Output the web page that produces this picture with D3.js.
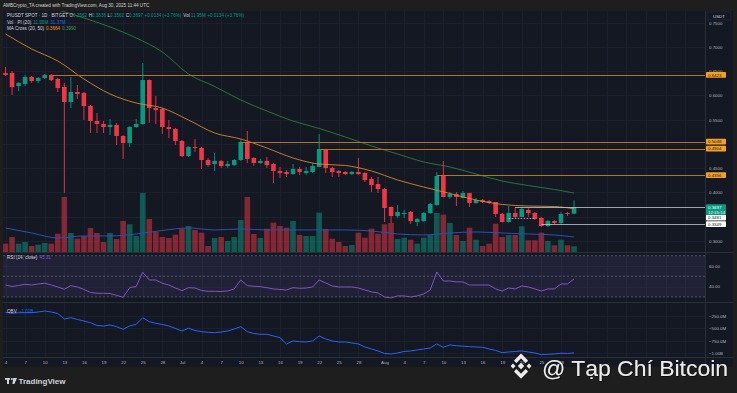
<!DOCTYPE html>
<html>
<head>
<meta charset="utf-8">
<script src="https://cdn.jsdelivr.net/npm/d3@7"></script>
<style>
  body { margin: 0; background: #1e1e1e; }
  svg { display: block; font-family: "Liberation Sans", Arial, sans-serif; }
</style>
</head>
<body>
<script>
// PIUSDT daily candles, Jun 4 - Aug 30 2025
const firstDate = "2025-06-04";
const lastDate = "2025-08-30";

const open = [0.6464,0.6464,0.6196,0.6237,0.6381,0.6299,0.6361,0.6423,0.6340,0.6175,
  0.5866,0.6072,0.6051,0.5783,0.5474,0.5412,0.5350,0.5392,0.5165,0.5020,
  0.5350,0.5412,0.6319,0.5742,0.5722,0.5350,0.5309,0.5062,0.4752,0.4938,
  0.4917,0.4670,0.4587,0.4649,0.4546,0.4567,0.4670,0.5041,0.4711,0.4608,
  0.4649,0.4587,0.4443,0.4423,0.4381,0.4484,0.4402,0.4423,0.4526,0.4897,
  0.4505,0.4443,0.4423,0.4381,0.4423,0.4402,0.4278,0.4175,0.4072,0.3701,
  0.3515,0.3557,0.3598,0.3392,0.3412,0.3577,0.3742,0.4340,0.3907,0.3969,
  0.3886,0.3990,0.3783,0.3845,0.3825,0.3804,0.3557,0.3392,0.3577,0.3495,
  0.3639,0.3577,0.3474,0.3309,0.3412,0.3371,0.3577,0.3562];
const high = [0.6588,0.6505,0.6278,0.6423,0.6402,0.6381,0.6443,0.6443,0.6361,0.6258,
  0.6381,0.6216,0.6072,0.5804,0.5639,0.5474,0.5515,0.5433,0.5185,0.5371,
  0.5515,0.6670,0.6330,0.5990,0.5742,0.5495,0.5330,0.5082,0.4958,0.5103,
  0.4938,0.4711,0.4814,0.4670,0.4649,0.4691,0.5082,0.5268,0.4732,0.4691,
  0.4732,0.4608,0.4526,0.4464,0.4587,0.4526,0.4526,0.4608,0.5206,0.4897,
  0.4526,0.4464,0.4443,0.4443,0.4711,0.4423,0.4319,0.4319,0.4093,0.3712,
  0.3742,0.3639,0.3618,0.3474,0.3598,0.3783,0.4423,0.4649,0.4010,0.4010,
  0.4031,0.3990,0.3886,0.3866,0.3845,0.3804,0.3577,0.3721,0.3701,0.3701,
  0.3680,0.3598,0.3495,0.3433,0.3433,0.3598,0.3598,0.3836];
const low = [0.6402,0.6010,0.6093,0.6196,0.6258,0.6258,0.6340,0.6299,0.6072,0.3990,
  0.5742,0.5928,0.5495,0.5227,0.5227,0.5227,0.5185,0.4979,0.4691,0.4938,
  0.5330,0.5392,0.5433,0.5412,0.5206,0.5124,0.4979,0.4732,0.4732,0.4835,
  0.4484,0.4526,0.4443,0.4505,0.4505,0.4546,0.4649,0.4608,0.4546,0.4587,
  0.4505,0.4196,0.4299,0.4319,0.4361,0.4361,0.4361,0.4402,0.4526,0.4402,
  0.4319,0.4319,0.4361,0.4361,0.4361,0.4217,0.4010,0.3990,0.3392,0.3371,
  0.3474,0.3474,0.3350,0.3309,0.3392,0.3557,0.3730,0.3900,0.3866,0.3721,
  0.3876,0.3701,0.3763,0.3783,0.3763,0.3495,0.3382,0.3382,0.3474,0.3495,
  0.3495,0.3433,0.3289,0.3289,0.3350,0.3350,0.3515,0.3562];
const close = [0.6423,0.6175,0.6258,0.6381,0.6299,0.6361,0.6423,0.6319,0.6155,0.5866,
  0.6072,0.6031,0.5783,0.5474,0.5412,0.5350,0.5392,0.5165,0.5020,0.5350,
  0.5412,0.6319,0.5742,0.5701,0.5350,0.5309,0.5062,0.4752,0.4938,0.4917,
  0.4670,0.4567,0.4649,0.4546,0.4587,0.4670,0.5041,0.4691,0.4608,0.4649,
  0.4567,0.4443,0.4402,0.4381,0.4484,0.4423,0.4443,0.4546,0.4897,0.4505,
  0.4423,0.4402,0.4381,0.4423,0.4381,0.4258,0.4154,0.4072,0.3680,0.3515,
  0.3598,0.3577,0.3412,0.3453,0.3577,0.3763,0.4340,0.3907,0.3969,0.3907,
  0.3990,0.3783,0.3845,0.3804,0.3783,0.3557,0.3392,0.3577,0.3495,0.3660,
  0.3577,0.3453,0.3309,0.3412,0.3371,0.3557,0.3563,0.3697];
// volume in millions
const volume = [17.4,31.5,17.4,21,12.6,15.3,18.9,17.4,38.4,115.5,
  39.9,27.9,33.6,50.4,39.9,21,39.9,27.3,65.1,58.2,
  33.6,123.9,69.3,42,31.5,29.4,36.3,48.9,54.6,46.2,
  40.5,12.6,29.4,31.5,23.1,31.5,67.2,115.5,37.8,29.4,
  48.9,61.5,54.6,51,65.1,35.7,33.6,33.6,82.5,48.3,
  27.9,21,12.6,14.7,40.5,30,48.9,38.4,58.2,60.9,
  27.3,30,25.8,17.4,30,35.7,81.9,78.3,60.9,35.7,
  23.1,51,25.8,12.6,17.4,59.4,31.5,35.7,35.7,54,
  24.6,24.6,40.5,23.1,14.1,25.8,14.1,11.95];
const rsi = [41.5,40.1,41.1,42.2,41.5,42.5,43.2,41.5,39.6,37.4,
  40.9,39.6,37.2,34.3,33.5,33.5,33.3,31.4,29.6,38.9,
  40.1,53.9,46.4,46.4,43.2,41.5,38.6,36.0,38.9,38.6,
  36.2,35.4,35.4,35.2,35.7,37.7,46.4,40.9,40.3,39.9,
  38.9,37.7,37.2,36.7,38.9,38.3,38.6,39.6,46.4,43.5,
  40.6,39.6,39.6,39.6,38.6,36.7,34.8,33.8,29.9,28.9,
  30.9,30.9,29.9,30.9,32.8,36.7,54.2,45.4,45.4,44.5,
  44.5,41.5,41.5,41.5,41.5,37.7,35.7,38.6,37.7,40.6,
  39.6,37.7,35.7,37.7,37.7,42.5,42.5,47.4];
// OBV in millions
const obv = [-186,-202,-190,-190,-190,-176,-156,-176,-206,-316,
  -290,-326,-356,-390,-446,-456,-436,-470,-522,-456,
  -422,-290,-370,-402,-426,-456,-506,-556,-502,-546,
  -570,-582,-590,-576,-556,-516,-470,-570,-606,-622,
  -622,-656,-690,-816,-756,-770,-776,-756,-656,-716,
  -756,-776,-776,-796,-816,-876,-916,-956,-1006,-1016,
  -996,-966,-956,-936,-916,-896,-816,-882,-836,-852,
  -860,-870,-876,-882,-916,-946,-990,-976,-966,-956,
  -976,-996,-1030,-1022,-1016,-1002,-1006,-996];

// moving averages sampled every 4 days
const maDates = ["2025-06-04","2025-06-08","2025-06-12","2025-06-16","2025-06-20","2025-06-24",
  "2025-06-28","2025-07-02","2025-07-06","2025-07-10","2025-07-14","2025-07-18","2025-07-22",
  "2025-07-26","2025-07-30","2025-08-03","2025-08-07","2025-08-11","2025-08-15","2025-08-19",
  "2025-08-23","2025-08-27","2025-08-30"];
const ma20 = [0.7268,0.6959,0.6711,0.6340,0.6031,0.5845,0.5742,0.5495,0.5227,0.5103,0.4917,0.4711,
  0.4587,0.4557,0.4443,0.4258,0.4113,0.3979,0.3845,0.3753,0.3721,0.3711,0.3664];
const ma50 = [0.8010,0.7887,0.7763,0.7598,0.7412,0.7186,0.6897,0.6443,0.6186,0.5907,0.5680,0.5474,
  0.5320,0.5144,0.4959,0.4794,0.4629,0.4526,0.4381,0.4237,0.4144,0.4062,0.3990];
const volSma = [50.4,39.9,29.4,33.6,33.6,37.8,45.2,50.4,46.2,48.3,46.2,46.2,46.2,46.2,44.1,
  37.8,35.7,39.9,42,39.9,37.8,35.7,31.4];

// drawn levels
const levelPrices = [0.6423, 0.5048, 0.4904, 0.4356];
const levelStarts = ["2025-06-11","2025-07-10","2025-07-22","2025-08-09"];
const markPrices = [0.3697, 0.3481, 0.3349];
const markStarts = ["2025-08-21","2025-08-20","2025-08-25"];
const markEnds = [null, "2025-08-24", null];

const priceTicks = [0.30,0.35,0.40,0.45,0.50,0.55,0.60,0.65,0.70,0.75];
const rsiTicks = [60, 40];
const rsiBands = [70, 50, 30];
const obvTicks = [-250, -500, -750, -1000];
const obvTickLabels = ["\u2212250.0M","\u2212500.0M","\u2212750.0M","\u22121.00B"];
const timeTicks = ["2025-06-04","2025-06-07","2025-06-10","2025-06-13","2025-06-16","2025-06-19",
  "2025-06-22","2025-06-25","2025-06-28","2025-07-01","2025-07-04","2025-07-07","2025-07-10",
  "2025-07-13","2025-07-16","2025-07-19","2025-07-22","2025-07-25","2025-07-28","2025-08-01",
  "2025-08-04","2025-08-07","2025-08-10","2025-08-13","2025-08-16","2025-08-19","2025-08-22",
  "2025-08-25","2025-08-28","2025-09-01","2025-09-04","2025-09-07","2025-09-10","2025-09-13",
  "2025-09-16"];

// layout
const W = 737, H = 393;
const plotL = 3, plotR = 705, axisR = 733;
const mainTop = 11, mainBot = 252, rsiTop = 253, rsiBot = 302, obvTop = 303, obvBot = 357, timeBot = 367;

const upCol = '#089981', downCol = '#f23645';
const textCol = '#b2b5be', gridCol = '#1c202d', sepCol = '#2a2e39';
const levelCol = '#b8741c';

const parse = d3.utcParse('%Y-%m-%d');
const dates = d3.utcDay.range(parse(firstDate), d3.utcDay.offset(parse(lastDate), 1));
const candles = dates.map((d, i) => ({date: d, o: open[i], h: high[i], l: low[i], c: close[i], v: volume[i]}));

const dayMs = 864e5, pxPerDay = 6.535;
const t0 = parse(firstDate).getTime();
const x = d3.scaleUtc()
  .domain([new Date(t0 - 2.5 / pxPerDay * dayMs), new Date(t0 + (plotR - plotL - 2.5) / pxPerDay * dayMs)])
  .range([plotL, plotR]);
const y = d3.scaleLinear().domain([0.2773, 0.7742]).range([mainBot, mainTop]);
const yVol = d3.scaleLinear().domain([0, 130]).range([mainBot, mainBot - 62]);
const yRsi = d3.scaleLinear().domain([25.0, 72.6]).range([rsiBot, rsiTop]);
const yObv = d3.scaleLinear().domain([-1077, 0]).range([obvBot, 303.2]);

const svg = d3.select('body').append('svg').attr('width', W).attr('height', H);
const defs = svg.append('defs');
[['clipMain', mainTop, mainBot], ['clipRsi', rsiTop, rsiBot], ['clipObv', obvTop, obvBot]].forEach(([id, t, b]) => {
  defs.append('clipPath').attr('id', id).append('rect')
    .attr('x', plotL).attr('y', t).attr('width', plotR - plotL).attr('height', b - t);
});
const shadow = defs.append('filter').attr('id', 'shadow').attr('x', '-10%').attr('y', '-30%').attr('width', '120%').attr('height', '160%');
shadow.append('feDropShadow').attr('dx', 0.6).attr('dy', 0.8).attr('stdDeviation', 0.7)
  .attr('flood-color', '#000').attr('flood-opacity', 0.7);

// backgrounds
svg.append('rect').attr('width', W).attr('height', H).attr('fill', '#1e1e1e');
svg.append('rect').attr('x', plotL).attr('y', mainTop).attr('width', axisR - plotL)
  .attr('height', timeBot - mainTop).attr('fill', '#141823');

// grid
const grid = svg.append('g').attr('stroke', gridCol).attr('stroke-width', 1);
grid.append('g').selectAll('line').data(timeTicks).join('line')
  .attr('x1', d => Math.round(x(parse(d))) + 0.5).attr('x2', d => Math.round(x(parse(d))) + 0.5)
  .attr('y1', mainTop).attr('y2', obvBot);
grid.append('g').selectAll('line').data(priceTicks).join('line')
  .attr('x1', plotL).attr('x2', plotR)
  .attr('y1', d => Math.round(y(d)) + 0.5).attr('y2', d => Math.round(y(d)) + 0.5);
grid.append('g').selectAll('line').data(rsiTicks).join('line')
  .attr('x1', plotL).attr('x2', plotR)
  .attr('y1', d => Math.round(yRsi(d)) + 0.5).attr('y2', d => Math.round(yRsi(d)) + 0.5);
grid.append('g').selectAll('line').data(obvTicks).join('line')
  .attr('x1', plotL).attr('x2', plotR)
  .attr('y1', d => Math.round(yObv(d)) + 0.5).attr('y2', d => Math.round(yObv(d)) + 0.5);

// ---- main pane
const main = svg.append('g').attr('clip-path', 'url(#clipMain)');

// volume
main.append('g').selectAll('rect').data(candles).join('rect')
  .attr('x', d => x(d.date) - 2.8)
  .attr('width', 5.6)
  .attr('y', d => yVol(d.v))
  .attr('height', d => yVol(0) - yVol(d.v))
  .attr('fill', d => d.c >= d.o ? 'rgba(8,153,129,0.5)' : 'rgba(242,54,69,0.5)');

const maPts = maDates.map((d, i) => ({date: parse(d), ma20: ma20[i], ma50: ma50[i], vs: volSma[i]}));
main.append('path').datum(maPts)
  .attr('fill', 'none').attr('stroke', '#2b4fb8').attr('stroke-width', 1)
  .attr('d', d3.line().x(d => x(d.date)).y(d => yVol(d.vs)).curve(d3.curveMonotoneX));

// candles
const cg = main.append('g');
cg.append('g').selectAll('line').data(candles).join('line')
  .attr('x1', d => x(d.date)).attr('x2', d => x(d.date))
  .attr('y1', d => y(d.h)).attr('y2', d => y(d.l))
  .attr('stroke', d => d.c >= d.o ? upCol : downCol).attr('stroke-width', 0.9);
cg.append('g').selectAll('rect').data(candles).join('rect')
  .attr('x', d => x(d.date) - 2.3)
  .attr('width', 4.6)
  .attr('y', d => y(Math.max(d.o, d.c)))
  .attr('height', d => Math.max(1, Math.abs(y(d.o) - y(d.c))))
  .attr('fill', d => d.c >= d.o ? upCol : downCol);

// MA cross
main.append('path').datum(maPts)
  .attr('fill', 'none').attr('stroke', '#d9862c').attr('stroke-width', 0.9)
  .attr('d', d3.line().x(d => x(d.date)).y(d => y(d.ma20)).curve(d3.curveMonotoneX));
main.append('path').datum(maPts)
  .attr('fill', 'none').attr('stroke', '#2f7d3c').attr('stroke-width', 0.9)
  .attr('d', d3.line().x(d => x(d.date)).y(d => y(d.ma50)).curve(d3.curveMonotoneX));

// horizontal levels (1px bands so the colour stays solid)
main.append('g').selectAll('rect').data(levelPrices).join('rect')
  .attr('x', (d, i) => x(parse(levelStarts[i])))
  .attr('width', (d, i) => plotR - x(parse(levelStarts[i])))
  .attr('y', d => Math.round(y(d)))
  .attr('height', 1)
  .attr('fill', levelCol);
main.append('g').selectAll('line').data(markPrices).join('line')
  .attr('x1', (d, i) => x(parse(markStarts[i])))
  .attr('x2', (d, i) => markEnds[i] ? x(parse(markEnds[i])) : plotR)
  .attr('y1', d => Math.round(y(d)) + 0.5).attr('y2', d => Math.round(y(d)) + 0.5)
  .attr('stroke', '#c4c7cf').attr('stroke-width', 0.8)
  .attr('stroke-dasharray', (d, i) => markEnds[i] ? '1.5,1.5' : null);

// ---- RSI pane
const rp = svg.append('g').attr('clip-path', 'url(#clipRsi)');
rp.append('rect').attr('x', plotL).attr('width', plotR - plotL)
  .attr('y', yRsi(70)).attr('height', yRsi(30) - yRsi(70))
  .attr('fill', 'rgba(126,87,194,0.12)');
rp.append('g').selectAll('line').data(rsiBands).join('line')
  .attr('x1', plotL).attr('x2', plotR)
  .attr('y1', d => yRsi(d)).attr('y2', d => yRsi(d))
  .attr('stroke', '#787b86').attr('stroke-width', 0.6).attr('stroke-dasharray', '2,2');
rp.append('path').datum(candles.map((d, i) => ({date: d.date, v: rsi[i]})))
  .attr('fill', 'none').attr('stroke', '#7e57c2').attr('stroke-width', 1)
  .attr('d', d3.line().x(d => x(d.date)).y(d => yRsi(d.v)));

// ---- OBV pane
const op = svg.append('g').attr('clip-path', 'url(#clipObv)');
op.append('path').datum(candles.map((d, i) => ({date: d.date, v: obv[i]})))
  .attr('fill', 'none').attr('stroke', '#2962ff').attr('stroke-width', 1)
  .attr('d', d3.line().x(d => x(d.date)).y(d => yObv(d.v)));

// separators
const sep = svg.append('g').attr('stroke', sepCol).attr('stroke-width', 1);
[mainBot, rsiBot, obvBot].forEach(v => sep.append('line')
  .attr('x1', plotL).attr('x2', axisR).attr('y1', v + 0.5).attr('y2', v + 0.5));
sep.append('line').attr('x1', plotR + 0.5).attr('x2', plotR + 0.5).attr('y1', mainTop).attr('y2', timeBot);

// ---- axes
const fs = 4.4;
const priceAxis = svg.append('g').attr('transform', `translate(${plotR},0)`)
  .call(d3.axisRight(y).tickValues(priceTicks.filter(p => p !== 0.35 && p !== 0.50))
    .tickFormat(d3.format('.4f')).tickSize(0).tickPadding(4));
priceAxis.select('.domain').remove();
priceAxis.selectAll('text').attr('fill', textCol).attr('font-size', fs).attr('font-family', 'Liberation Sans, Arial');

const rsiAxis = svg.append('g').attr('transform', `translate(${plotR},0)`)
  .call(d3.axisRight(yRsi).tickValues(rsiTicks).tickFormat(d3.format('.2f')).tickSize(0).tickPadding(4));
rsiAxis.select('.domain').remove();
rsiAxis.selectAll('text').attr('fill', textCol).attr('font-size', fs).attr('font-family', 'Liberation Sans, Arial');

const obvAxis = svg.append('g').attr('transform', `translate(${plotR},0)`)
  .call(d3.axisRight(yObv).tickValues(obvTicks).tickFormat((d, i) => obvTickLabels[i]).tickSize(0).tickPadding(4));
obvAxis.select('.domain').remove();
obvAxis.selectAll('text').attr('fill', textCol).attr('font-size', fs).attr('font-family', 'Liberation Sans, Arial');

// date labels only under the candles (the rest sits under the watermark in the original)
const monthFmt = d3.utcFormat('%b');
const timeAxis = svg.append('g').attr('transform', `translate(0,${obvBot})`)
  .call(d3.axisBottom(x).tickValues(timeTicks.map(parse).filter(d => d <= parse(lastDate)))
    .tickFormat(d => d.getUTCDate() === 1 ? monthFmt(d) : String(d.getUTCDate()))
    .tickSize(0).tickPadding(3.5));
timeAxis.select('.domain').remove();
timeAxis.selectAll('text').attr('fill', textCol).attr('font-size', fs).attr('font-family', 'Liberation Sans, Arial');

// USDT box
svg.append('rect').attr('x', 707).attr('y', 12).attr('width', 24).attr('height', 8)
  .attr('fill', '#141823').attr('stroke', sepCol).attr('stroke-width', 0.6).attr('rx', 1);
svg.append('text').attr('x', 719).attr('y', 17.6).attr('text-anchor', 'middle')
  .attr('font-size', fs).attr('fill', '#d1d4dc').text('USDT');

// price markers
function marker(price, bg, fg, label) {
  const cy = y(price);
  svg.append('rect').attr('x', plotR + 1).attr('y', cy - 2.9).attr('width', 20).attr('height', 5.8)
    .attr('fill', bg).attr('rx', 0.8);
  svg.append('text').attr('x', plotR + 3).attr('y', cy + 1.6)
    .attr('font-size', fs).attr('fill', fg).text(label);
}
levelPrices.forEach(p => marker(p, '#f7a11a', '#131722', d3.format('.4f')(p)));
marker(markPrices[1], '#ffffff', '#131722', d3.format('.4f')(markPrices[1]));
marker(markPrices[2], '#ffffff', '#131722', d3.format('.4f')(markPrices[2]));
// last price with countdown
const lastY = y(close[close.length - 1]);
svg.append('rect').attr('x', plotR + 1).attr('y', lastY - 2.9).attr('width', 20).attr('height', 10.6)
  .attr('fill', upCol).attr('rx', 0.8);
svg.append('text').attr('x', plotR + 3).attr('y', lastY + 1.6).attr('font-size', fs).attr('fill', '#fff')
  .text(d3.format('.4f')(close[close.length - 1]));
svg.append('text').attr('x', plotR + 3).attr('y', lastY + 6.4).attr('font-size', fs).attr('fill', '#fff')
  .text('12:15:14');

// ---- legends
const lf = 4.6;
svg.append('text').attr('x', 3).attr('y', 6.8).attr('font-size', lf).attr('fill', '#d1d4dc')
  .text('AMBCrypto_TA created with TradingView.com, Aug 30, 2025 11:44 UTC');

function legend(yPos, parts) {
  const t = svg.append('text').attr('x', 7).attr('y', yPos).attr('font-size', lf);
  parts.forEach(([s, c, dx]) => t.append('tspan').attr('dx', dx || 0).attr('fill', c).text(s));
}
const last = candles[candles.length - 1];
const f4 = d3.format('.4f');
legend(17.3, [['PIUSDT SPOT \u00b7 1D \u00b7 BITGET', '#d1d4dc'],
  ['O', '#d1d4dc', 1.5], [f4(last.o), upCol], ['H', '#d1d4dc', 1.5], [f4(last.h), upCol],
  ['L', '#d1d4dc', 1.5], [f4(last.l), upCol], ['C', '#d1d4dc', 1.5], [f4(last.c), upCol],
  ['+0.0134 (+3.76%)', upCol, 1.5], ['Vol', '#d1d4dc', 2], ['11.95M', upCol, 1], ['+0.0134 (+3.76%)', upCol, 1.5]]);
legend(23.8, [['Vol \u00b7 PI (20)', '#d1d4dc'], ['11.95M', upCol, 2], ['31.37M', '#2962ff', 2]]);
legend(30.4, [['MA Cross (20, 50)', '#d1d4dc'], [f4(ma20[ma20.length - 1]), '#ff9800', 2], [f4(ma50[ma50.length - 1]), '#43a047', 2]]);
legend(258.8, [['RSI (14, close)', '#d1d4dc'], ['45.31', '#7e57c2', 2]]);
legend(313.4, [['OBV', '#d1d4dc'], ['\u22121.01B', '#2962ff', 2]]);

// ---- bottom bar
svg.append('rect').attr('x', 5).attr('y', 378).attr('width', 5).attr('height', 1.8).attr('fill', '#d1d4dc');
svg.append('rect').attr('x', 7).attr('y', 378).attr('width', 2).attr('height', 6).attr('fill', '#d1d4dc');
svg.append('circle').attr('cx', 11.8).attr('cy', 379).attr('r', 1).attr('fill', '#d1d4dc');
svg.append('path').attr('d', 'M13.2,378 L17,378 L14.4,384 L12.4,384 Z').attr('fill', '#d1d4dc');
svg.append('text').attr('x', 18.5).attr('y', 384).attr('font-size', 8).attr('font-weight', 'bold')
  .attr('fill', '#d1d4dc').text('TradingView');

// ---- watermark
const wm = svg.append('g').attr('filter', 'url(#shadow)').attr('fill', '#ececec');
const lg = wm.append('g').attr('transform', 'translate(521,366)');
lg.append('path').attr('d', 'M0,-3.2 L3.2,0 L0,3.2 L-3.2,0 Z');
lg.append('path').attr('d', 'M-8,-2.4 L-5.6,0 L-8,2.4 L-10.4,0 Z');
lg.append('path').attr('d', 'M8,-2.4 L10.4,0 L8,2.4 L5.6,0 Z');
lg.append('path').attr('d', 'M0,-12.5 L7,-5.5 L4.6,-3.1 L0,-7.7 L-4.6,-3.1 L-7,-5.5 Z');
lg.append('path').attr('d', 'M0,12.5 L7,5.5 L4.6,3.1 L0,7.7 L-4.6,3.1 L-7,5.5 Z');
wm.append('text').attr('x', 542).attr('y', 375.5).attr('font-size', 22.5)
  .attr('textLength', 186).attr('lengthAdjust', 'spacingAndGlyphs')
  .text('@ T\u1ea1p Ch\u00ed Bitcoin');
</script>
</body>
</html>
